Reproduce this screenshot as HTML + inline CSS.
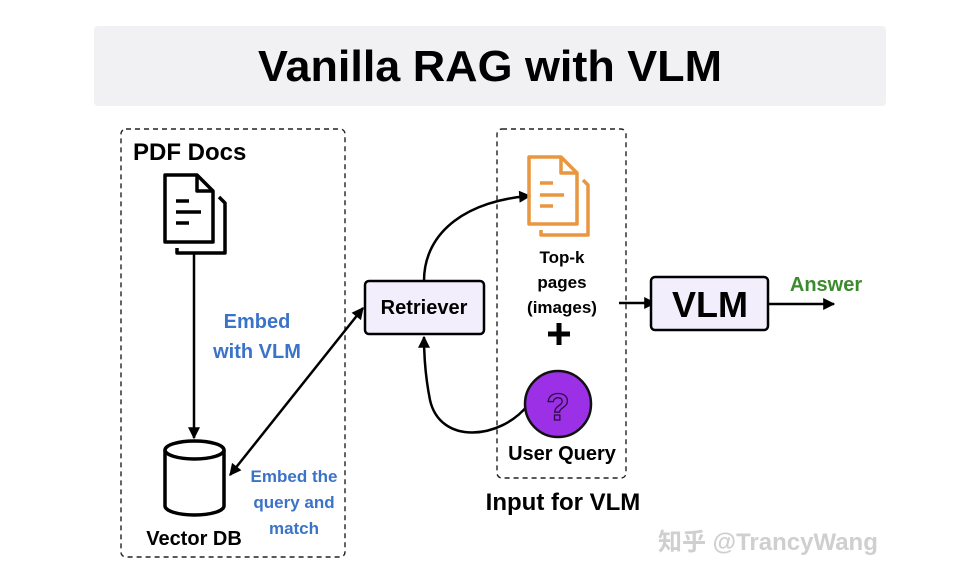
<!DOCTYPE html>
<html><head><meta charset="utf-8"><style>
html,body{margin:0;padding:0;background:#fff;}
svg{display:block;}
text{font-family:"Liberation Sans",Arial,sans-serif;font-weight:bold;}
</style></head><body>
<svg width="968" height="578" viewBox="0 0 968 578" xmlns="http://www.w3.org/2000/svg">
<defs>
<marker id="ah" viewBox="0 0 10 10" refX="9" refY="5" markerWidth="14" markerHeight="12" orient="auto-start-reverse" markerUnits="userSpaceOnUse">
<path d="M0,0 L10,5 L0,10 z" fill="#000"/></marker>
</defs>
<rect x="94" y="26" width="792" height="80" rx="4" fill="#f1f1f3"/>
<text x="490" y="81" font-size="44" text-anchor="middle" textLength="464" lengthAdjust="spacingAndGlyphs" fill="#000">Vanilla RAG with VLM</text>

<rect x="121" y="129" width="224" height="428" rx="5" fill="none" stroke="#222" stroke-width="1.4" stroke-dasharray="5,4"/>
<text x="133" y="160" font-size="24">PDF Docs</text>
<g fill="none" stroke="#000" stroke-width="3.5" stroke-linejoin="round">
<path d="M165,175 H197 L213,191 V242 H165 Z"/>
<path d="M197,175 V191 H213"/>
<path d="M176,201 H189 M176,212 H201 M176,223 H189"/>
<path d="M219,197 L225,203 V253 H177 V248"/>
</g>
<line x1="194" y1="253" x2="194" y2="438" stroke="#000" stroke-width="2.5" marker-end="url(#ah)"/>
<g fill="#fff" stroke="#000" stroke-width="3.5">
<path d="M165,450 V506 A29.5,9 0 0 0 224,506 V450"/>
<ellipse cx="194.5" cy="450" rx="29.5" ry="9"/>
</g>
<text x="194" y="545" font-size="20" text-anchor="middle">Vector DB</text>
<g fill="#3b73c9" text-anchor="middle">
<text x="257" y="328" font-size="20">Embed</text>
<text x="257" y="358" font-size="20">with VLM</text>
<text x="294" y="482" font-size="17">Embed the</text>
<text x="294" y="508" font-size="17">query and</text>
<text x="294" y="534" font-size="17">match</text>
</g>
<line x1="230" y1="475" x2="363" y2="308" stroke="#000" stroke-width="2.5" marker-start="url(#ah)" marker-end="url(#ah)"/>

<rect x="365" y="281" width="119" height="53" rx="4" fill="#f3eefb" stroke="#000" stroke-width="2.5"/>
<text x="424" y="314" font-size="20" text-anchor="middle">Retriever</text>
<path d="M424,281 C424,230 470,200 530,196" fill="none" stroke="#000" stroke-width="2.5" marker-end="url(#ah)"/>
<path d="M528,405 C500,440 440,445 430,400 C426,380 424,360 424,337" fill="none" stroke="#000" stroke-width="2.5" marker-end="url(#ah)"/>

<rect x="497" y="129" width="129" height="349" rx="5" fill="none" stroke="#222" stroke-width="1.4" stroke-dasharray="5,4"/>
<g fill="none" stroke="#e8963f" stroke-width="3.5" stroke-linejoin="round">
<path d="M529,157 H561 L577,173 V224 H529 Z"/>
<path d="M561,157 V173 H577"/>
<path d="M540,183 H553 M540,195 H564 M540,206 H553"/>
<path d="M583,180 L588,185 V235 H541 V230"/>
</g>
<g text-anchor="middle" font-size="17">
<text x="562" y="263">Top-k</text>
<text x="562" y="288">pages</text>
<text x="562" y="313">(images)</text>
</g>
<path d="M559,323 V345 M548,334 H570" stroke="#000" stroke-width="5"/>
<circle cx="558" cy="404" r="33" fill="#9b30e6" stroke="#111" stroke-width="2.5"/>
<text x="558" y="420" font-size="38" text-anchor="middle" fill="#9b30e6" stroke="#2a0a40" stroke-width="1.3" font-weight="normal">?</text>
<text x="562" y="460" font-size="20" text-anchor="middle">User Query</text>
<text x="563" y="510" font-size="24" text-anchor="middle">Input for VLM</text>

<line x1="619" y1="303" x2="655" y2="303" stroke="#000" stroke-width="2.5" marker-end="url(#ah)"/>
<rect x="651" y="277" width="117" height="53" rx="4" fill="#f3eefb" stroke="#000" stroke-width="2.5"/>
<text x="710" y="317" font-size="36" text-anchor="middle">VLM</text>
<text x="826" y="291" font-size="20" text-anchor="middle" fill="#3d8b2f">Answer</text>
<line x1="768" y1="304" x2="834" y2="304" stroke="#000" stroke-width="2.5" marker-end="url(#ah)"/>

<text x="658" y="550" font-size="24" fill="#cfcfcf" font-weight="normal" style="font-family:'Liberation Sans','Noto Sans CJK SC',sans-serif">知乎 @TrancyWang</text>
</svg>
</body></html>
